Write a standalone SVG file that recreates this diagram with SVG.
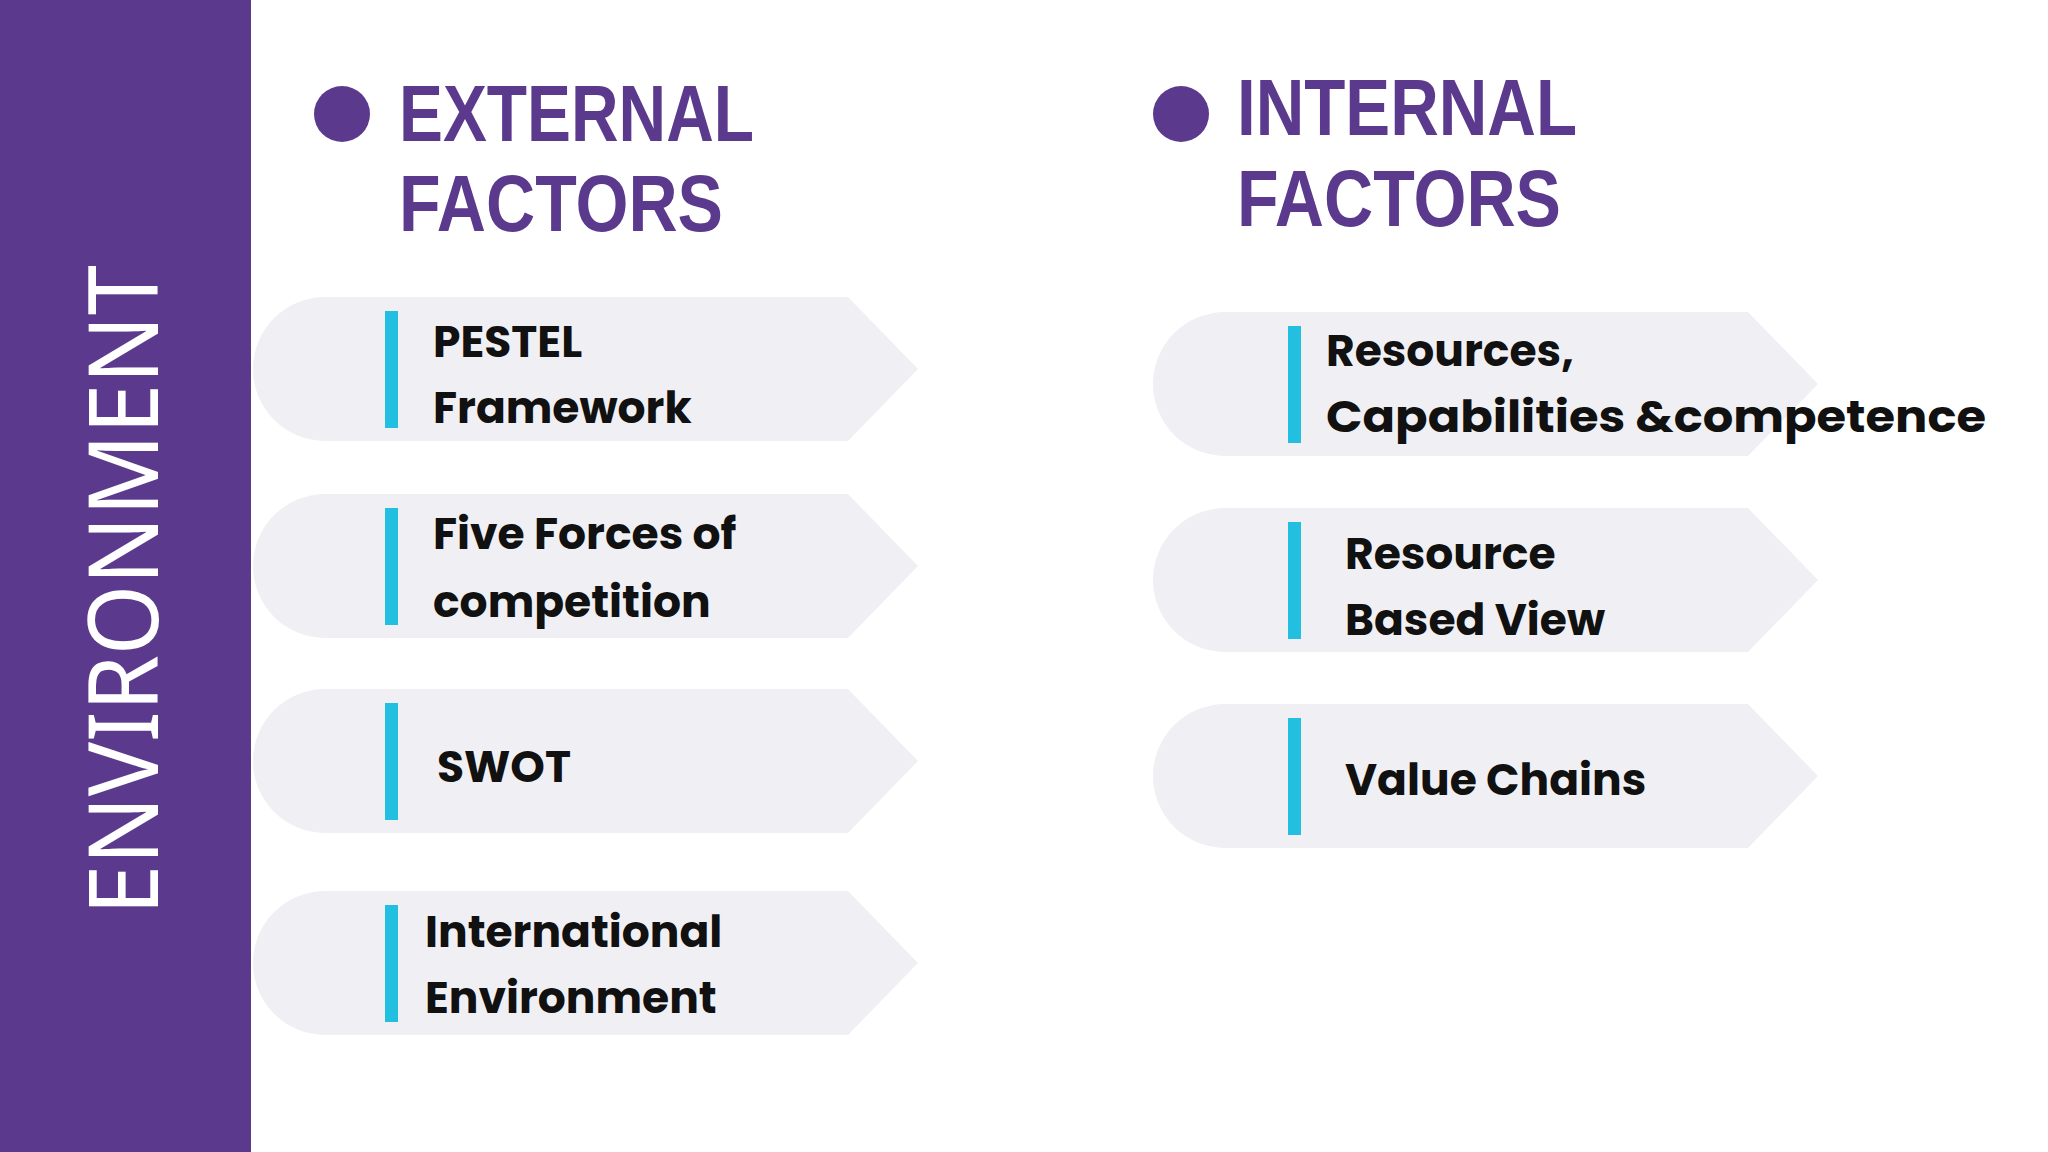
<svg xmlns="http://www.w3.org/2000/svg" width="2048" height="1152" viewBox="0 0 2048 1152">
<defs>
<style>
.card{fill:#f0f0f4}
.bar{fill:#22bfe0}
.t{font-family:"Poppins","Noto Sans","Liberation Sans",sans-serif;font-weight:700;font-size:44px;fill:#111}
.h{font-family:"Liberation Sans",sans-serif;font-weight:700;font-size:80px;fill:#5b3a8e}
</style>
<path id="c" d="M72 0 H595 L665 72 L595 144 H72 A72 72 0 0 1 72 0 Z"/>
</defs>
<rect width="2048" height="1152" fill="#fff"/>
<rect x="0" y="0" width="251" height="1152" fill="#5b3a8e"/>
<text transform="translate(158,590) rotate(-90)" text-anchor="middle" font-family="'Noto Sans','Liberation Sans',sans-serif" font-size="96" fill="#fff" textLength="650" lengthAdjust="spacingAndGlyphs">ENVIRONMENT</text>
<g id="external-heading">
<circle cx="342" cy="114" r="28" fill="#5b3a8e"/>
<text class="h" x="399" y="141" textLength="355" lengthAdjust="spacingAndGlyphs">EXTERNAL</text>
<text class="h" x="399" y="231" textLength="324" lengthAdjust="spacingAndGlyphs">FACTORS</text>
</g>
<g id="internal-heading">
<circle cx="1181" cy="114" r="28" fill="#5b3a8e"/>
<text class="h" x="1237" y="135" textLength="340" lengthAdjust="spacingAndGlyphs">INTERNAL</text>
<text class="h" x="1237" y="226" textLength="324" lengthAdjust="spacingAndGlyphs">FACTORS</text>
</g>
<g id="pestel"><use href="#c" x="253" y="297" class="card"/><rect class="bar" x="385" y="311" width="13" height="117"/>
<text class="t" x="433" y="357">PESTEL</text><text class="t" x="433" y="423">Framework</text></g>
<g id="five-forces"><use href="#c" x="253" y="494" class="card"/><rect class="bar" x="385" y="508" width="13" height="117"/>
<text class="t" x="433" y="549">Five Forces of</text><text class="t" x="433" y="617">competition</text></g>
<g id="swot"><use href="#c" x="253" y="689" class="card"/><rect class="bar" x="385" y="703" width="13" height="117"/>
<text class="t" x="437" y="782">SWOT</text></g>
<g id="international"><use href="#c" x="253" y="891" class="card"/><rect class="bar" x="385" y="905" width="13" height="117"/>
<text class="t" x="425" y="947">International</text><text class="t" x="425" y="1013">Environment</text></g>
<g id="resources"><use href="#c" x="1153" y="312" class="card"/><rect class="bar" x="1288" y="326" width="13" height="117"/>
<text class="t" x="1326" y="366">Resources,</text><text class="t" x="1326" y="432" textLength="660" lengthAdjust="spacingAndGlyphs">Capabilities &amp;competence</text></g>
<g id="rbv"><use href="#c" x="1153" y="508" class="card"/><rect class="bar" x="1288" y="522" width="13" height="117"/>
<text class="t" x="1345" y="569">Resource</text><text class="t" x="1345" y="635">Based View</text></g>
<g id="value-chains"><use href="#c" x="1153" y="704" class="card"/><rect class="bar" x="1288" y="718" width="13" height="117"/>
<text class="t" x="1345" y="795">Value Chains</text></g>
<g id="connectors"/>
</svg>
